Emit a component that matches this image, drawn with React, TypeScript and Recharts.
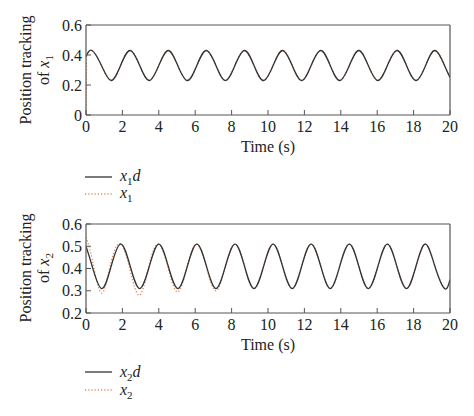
import React from 'react';
import { LineChart, Line, XAxis, YAxis, Legend } from 'recharts';

const FONT = '"Liberation Serif", "Times New Roman", serif';
const AXIS_COLOR = '#555555';
const TEXT_COLOR = '#222222';
const DESIRED_COLOR = '#333333';
const ACTUAL_COLOR = '#e8865c';

const timeTicks = [0, 2, 4, 6, 8, 10, 12, 14, 16, 18, 20];
const panel1Ticks = [0, 0.2, 0.4, 0.6];
const panel2Ticks = [0.2, 0.3, 0.4, 0.5, 0.6];

// Panel 1 : position tracking of x1
const p1Times = [
  0, 0.33, 0.85, 1.38, 1.9, 2.42, 2.95, 3.47, 4.0, 4.52, 5.04, 5.57, 6.09, 6.61,
  7.14, 7.66, 8.18, 8.71, 9.23, 9.75, 10.28, 10.8, 11.33, 11.85, 12.37, 12.9,
  13.42, 13.94, 14.47, 14.99, 15.51, 16.04, 16.56, 17.09, 17.61, 18.13, 18.66,
  19.18, 19.7, 20,
];
const x1dValues = [
  0.39,
  0.43, 0.33, 0.23, 0.33,
  0.43, 0.33, 0.23, 0.33,
  0.43, 0.33, 0.23, 0.33,
  0.43, 0.33, 0.23, 0.33,
  0.43, 0.33, 0.23, 0.33,
  0.43, 0.33, 0.23, 0.33,
  0.43, 0.33, 0.23, 0.33,
  0.43, 0.33, 0.23, 0.33,
  0.43, 0.33, 0.23, 0.33,
  0.43, 0.33,
  0.25,
];
const x1Values = [
  0.39,
  0.43, 0.33, 0.23, 0.33,
  0.43, 0.33, 0.23, 0.33,
  0.43, 0.33, 0.23, 0.33,
  0.43, 0.33, 0.23, 0.33,
  0.43, 0.33, 0.23, 0.33,
  0.43, 0.33, 0.23, 0.33,
  0.43, 0.33, 0.23, 0.33,
  0.43, 0.33, 0.23, 0.33,
  0.43, 0.33, 0.23, 0.33,
  0.43, 0.33,
  0.25,
];
// initial transient of x1 (starts at 0 and jumps up)
const x1StartTimes = [0, 0.03];
const x1StartValues = [0, 0.39];

// Panel 2 : position tracking of x2
const p2Times = [
  0, 0.34, 0.86, 1.38, 1.91, 2.43, 2.95, 3.48, 4.0, 4.52, 5.05, 5.57, 6.09, 6.62,
  7.14, 7.66, 8.19, 8.71, 9.23, 9.76, 10.28, 10.8, 11.33, 11.85, 12.37, 12.9,
  13.42, 13.94, 14.47, 14.99, 15.51, 16.04, 16.56, 17.08, 17.61, 18.13, 18.65,
  19.17, 19.7, 20,
];
const x2dValues = [
  0.5,
  0.41, 0.31, 0.41, 0.51,
  0.41, 0.31, 0.41, 0.51,
  0.41, 0.31, 0.41, 0.51,
  0.41, 0.31, 0.41, 0.51,
  0.41, 0.31, 0.41, 0.51,
  0.41, 0.31, 0.41, 0.51,
  0.41, 0.31, 0.41, 0.51,
  0.41, 0.31, 0.41, 0.51,
  0.41, 0.31, 0.41, 0.51,
  0.41, 0.31,
  0.35,
];
const x2Values = [
  0.54,
  0.44, 0.29, 0.43, 0.51,
  0.39, 0.28, 0.42, 0.51,
  0.4, 0.295, 0.415, 0.51,
  0.405, 0.3, 0.41, 0.51,
  0.41, 0.31, 0.41, 0.51,
  0.41, 0.31, 0.41, 0.51,
  0.41, 0.31, 0.41, 0.51,
  0.41, 0.31, 0.41, 0.51,
  0.41, 0.31, 0.41, 0.51,
  0.41, 0.31,
  0.35,
];

const panel1Data = p1Times.map((t, i) => ({ t, x1d: x1dValues[i], x1: x1Values[i] }));
const x1StartData = x1StartTimes.map((t, i) => ({ t, x1: x1StartValues[i] }));
const panel2Data = p2Times.map((t, i) => ({ t, x2d: x2dValues[i], x2: x2Values[i] }));

const tickStyle = { fill: TEXT_COLOR, fontSize: 16, fontFamily: FONT };

const yLabel = (sub: string, cy: number) => () => (
  <g>
    <text
      transform={`translate(31, ${cy}) rotate(-90)`}
      textAnchor="middle"
      fontFamily={FONT}
      fontSize={16}
      fill={TEXT_COLOR}
    >
      Position tracking
    </text>
    <text
      transform={`translate(49, ${cy}) rotate(-90)`}
      textAnchor="middle"
      fontFamily={FONT}
      fontSize={16}
      fill={TEXT_COLOR}
    >
      of <tspan fontStyle="italic">x</tspan>
      <tspan fontSize={11} dy={4}>{sub}</tspan>
    </text>
  </g>
);

const legendContent = (sub: string, rowHeight: number) => () => (
  <div style={{ fontFamily: FONT, fontSize: 16, color: TEXT_COLOR }}>
    <div style={{ display: 'flex', alignItems: 'center', height: rowHeight }}>
      <svg width={27} height={6}>
        <line x1={0} y1={3} x2={27} y2={3} stroke={DESIRED_COLOR} strokeWidth={1.3} />
      </svg>
      <span style={{ marginLeft: 8, lineHeight: '16px' }}>
        <i>x</i>
        <span style={{ fontSize: 11, position: 'relative', top: 4 }}>{sub}</span>
        <i>d</i>
      </span>
    </div>
    <div style={{ display: 'flex', alignItems: 'center', height: rowHeight }}>
      <svg width={27} height={6}>
        <line
          x1={0}
          y1={3}
          x2={27}
          y2={3}
          stroke={ACTUAL_COLOR}
          strokeWidth={1.3}
          strokeDasharray="1.2 2"
        />
      </svg>
      <span style={{ marginLeft: 8, lineHeight: '16px' }}>
        <i>x</i>
        <span style={{ fontSize: 11, position: 'relative', top: 4 }}>{sub}</span>
      </span>
    </div>
  </div>
);

type PanelProps = {
  top: number;
  height: number;
  marginTop: number;
  marginBottom: number;
  data: any[];
  desiredKey: string;
  actualKey: string;
  yDomain: [number, number];
  yTicks: number[];
  sub: string;
  labelCy: number;
  legendTop: number;
  legendRow: number;
  extra?: React.ReactNode;
};

function Panel(p: PanelProps) {
  return (
    <div style={{ position: 'absolute', left: 0, top: p.top }}>
      <LineChart
        width={474}
        height={p.height}
        data={p.data}
        margin={{ top: p.marginTop, right: 23, left: 0, bottom: p.marginBottom }}
        style={{ fontFamily: FONT }}
      >
        <XAxis
          dataKey="t"
          type="number"
          domain={[0, 20]}
          ticks={timeTicks}
          interval={0}
          allowDataOverflow
          height={37}
          tickSize={-5}
          tickMargin={11}
          tick={tickStyle}
          stroke={AXIS_COLOR}
          axisLine={{ stroke: AXIS_COLOR, strokeWidth: 1.2 }}
          tickLine={{ stroke: AXIS_COLOR }}
          label={{
            value: 'Time (s)',
            position: 'insideBottom',
            offset: 0,
            fill: TEXT_COLOR,
            fontSize: 16,
            fontFamily: FONT,
          }}
        />
        <XAxis
          xAxisId="top"
          orientation="top"
          dataKey="t"
          type="number"
          domain={[0, 20]}
          ticks={timeTicks}
          interval={0}
          allowDataOverflow
          height={1}
          tickSize={-5}
          tick={false}
          axisLine={{ stroke: AXIS_COLOR, strokeWidth: 1.2 }}
          tickLine={{ stroke: AXIS_COLOR }}
        />
        <YAxis
          type="number"
          domain={p.yDomain}
          ticks={p.yTicks}
          interval={0}
          allowDataOverflow
          width={86}
          tickSize={-5}
          tickMargin={9}
          tick={tickStyle}
          axisLine={{ stroke: AXIS_COLOR, strokeWidth: 1.2 }}
          tickLine={{ stroke: AXIS_COLOR }}
          label={{ content: yLabel(p.sub, p.labelCy) }}
        />
        <YAxis
          yAxisId="right"
          orientation="right"
          type="number"
          domain={p.yDomain}
          ticks={p.yTicks}
          interval={0}
          allowDataOverflow
          width={1}
          tickSize={-5}
          tick={false}
          axisLine={{ stroke: AXIS_COLOR, strokeWidth: 1.2 }}
          tickLine={{ stroke: AXIS_COLOR }}
        />
        {p.extra}
        <Line
          dataKey={p.actualKey}
          type="natural"
          stroke={ACTUAL_COLOR}
          strokeWidth={1.3}
          strokeDasharray="1.2 2"
          dot={false}
          activeDot={false}
          isAnimationActive={false}
        />
        <Line
          dataKey={p.desiredKey}
          type="natural"
          stroke={DESIRED_COLOR}
          strokeWidth={1.3}
          dot={false}
          activeDot={false}
          isAnimationActive={false}
        />
        <Legend
          layout="vertical"
          align="center"
          verticalAlign="middle"
          content={legendContent(p.sub, p.legendRow)}
          wrapperStyle={{ left: 85, top: p.legendTop, width: 120, height: 40 }}
        />
      </LineChart>
    </div>
  );
}

export default function App() {
  return (
    <div
      style={{
        position: 'absolute',
        left: 0,
        top: 0,
        width: 474,
        height: 416,
        background: '#ffffff',
        overflow: 'hidden',
      }}
    >
      <Panel
        top={0}
        height={200}
        marginTop={24}
        marginBottom={48}
        data={panel1Data}
        desiredKey="x1d"
        actualKey="x1"
        yDomain={[0, 0.6]}
        yTicks={panel1Ticks}
        sub="1"
        labelCy={70}
        legendTop={168}
        legendRow={17}
        extra={
          <Line
            data={x1StartData}
            dataKey="x1"
            type="linear"
            stroke={ACTUAL_COLOR}
            strokeWidth={1.3}
            strokeDasharray="1.2 2"
            dot={false}
            activeDot={false}
            legendType="none"
            isAnimationActive={false}
          />
        }
      />
      <Panel
        top={200}
        height={216}
        marginTop={23}
        marginBottom={66}
        data={panel2Data}
        desiredKey="x2d"
        actualKey="x2"
        yDomain={[0.2, 0.6]}
        yTicks={panel2Ticks}
        sub="2"
        labelCy={68}
        legendTop={163}
        legendRow={18}
      />
    </div>
  );
}
